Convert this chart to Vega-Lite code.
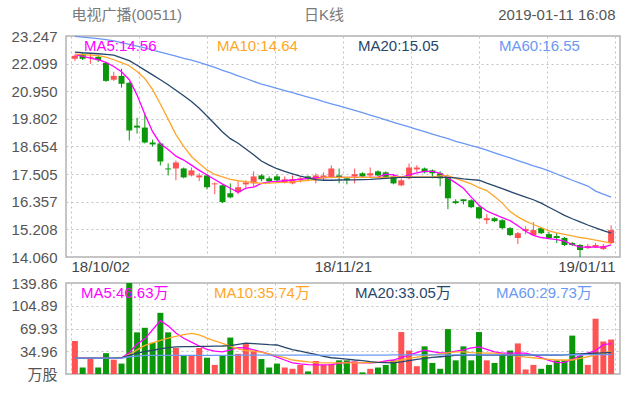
{
"$schema": "https://vega.github.io/schema/vega-lite/v6.json",
"padding": {"left": 10, "top": 6, "right": 4, "bottom": 4},
"datasets": {"k": [
{"i":0,"o":22.30,"h":22.46,"l":22.21,"c":22.42,"v":50.7,"ma5":22.47,"ma10":22.49,"ma20":22.58,"ma60":23.23,"vma5":24.5,"vma10":24.5,"vma20":24.5,"vma60":24.5},
{"i":1,"o":22.50,"h":22.54,"l":22.25,"c":22.30,"v":10,"ma5":22.40,"ma10":22.47,"ma20":22.55,"ma60":23.20,"vma5":24.5,"vma10":24.5,"vma20":24.5,"vma60":24.5},
{"i":2,"o":22.34,"h":22.50,"l":22.09,"c":22.38,"v":25,"ma5":22.33,"ma10":22.45,"ma20":22.53,"ma60":23.17,"vma5":24.5,"vma10":24.5,"vma20":24.5,"vma60":24.5},
{"i":3,"o":22.38,"h":22.46,"l":22.17,"c":22.25,"v":10,"ma5":22.26,"ma10":22.43,"ma20":22.51,"ma60":23.14,"vma5":24.5,"vma10":24.5,"vma20":24.5,"vma60":24.5},
{"i":4,"o":22.13,"h":22.17,"l":21.34,"c":21.38,"v":32,"ma5":22.15,"ma10":22.37,"ma20":22.48,"ma60":23.10,"vma5":24.5,"vma10":24.5,"vma20":24.5,"vma60":24.5},
{"i":5,"o":21.43,"h":21.76,"l":21.38,"c":21.59,"v":22,"ma5":21.98,"ma10":22.26,"ma20":22.45,"ma60":23.04,"vma5":24.5,"vma10":24.5,"vma20":24.5,"vma60":24.5},
{"i":6,"o":21.59,"h":21.88,"l":21.10,"c":21.26,"v":16,"ma5":21.76,"ma10":22.14,"ma20":22.34,"ma60":22.97,"vma5":24.5,"vma10":24.5,"vma20":25,"vma60":24.5},
{"i":7,"o":21.30,"h":21.34,"l":18.90,"c":19.32,"v":139.86,"ma5":21.43,"ma10":22.01,"ma20":22.22,"ma60":22.90,"vma5":33,"vma10":30,"vma20":28.5,"vma60":26.5},
{"i":8,"o":19.52,"h":19.85,"l":19.19,"c":19.44,"v":64,"ma5":20.79,"ma10":21.77,"ma20":22.03,"ma60":22.83,"vma5":46,"vma10":37,"vma20":32,"vma60":27.5},
{"i":9,"o":19.44,"h":20.02,"l":18.78,"c":18.82,"v":71,"ma5":19.99,"ma10":21.48,"ma20":21.83,"ma60":22.75,"vma5":54,"vma10":44,"vma20":34.5,"vma60":28.5},
{"i":10,"o":18.82,"h":18.94,"l":18.65,"c":18.74,"v":48,"ma5":19.27,"ma10":21.02,"ma20":21.63,"ma60":22.66,"vma5":68,"vma10":48,"vma20":36.5,"vma60":28.5},
{"i":11,"o":18.78,"h":18.82,"l":17.87,"c":18.03,"v":94,"ma5":18.77,"ma10":20.42,"ma20":21.43,"ma60":22.58,"vma5":82,"vma10":51.5,"vma20":38.5,"vma60":28.5},
{"i":12,"o":17.74,"h":17.95,"l":17.45,"c":17.70,"v":64,"ma5":18.53,"ma10":19.79,"ma20":21.22,"ma60":22.49,"vma5":74,"vma10":55,"vma20":40.5,"vma60":28.5},
{"i":13,"o":17.74,"h":18.07,"l":17.25,"c":17.99,"v":40,"ma5":18.25,"ma10":19.15,"ma20":20.99,"ma60":22.41,"vma5":63,"vma10":58,"vma20":41.8,"vma60":28.5},
{"i":14,"o":17.74,"h":17.78,"l":17.33,"c":17.37,"v":28,"ma5":18.09,"ma10":18.66,"ma20":20.76,"ma60":22.32,"vma5":55,"vma10":60.5,"vma20":42,"vma60":28.5},
{"i":15,"o":17.45,"h":17.78,"l":17.41,"c":17.66,"v":28,"ma5":17.88,"ma10":18.24,"ma20":20.52,"ma60":22.24,"vma5":49,"vma10":62.5,"vma20":42.2,"vma60":28.5},
{"i":16,"o":17.37,"h":17.54,"l":17.21,"c":17.45,"v":40,"ma5":17.66,"ma10":17.95,"ma20":20.24,"ma60":22.15,"vma5":43,"vma10":60,"vma20":42.4,"vma60":28.5},
{"i":17,"o":17.45,"h":17.50,"l":16.87,"c":16.96,"v":25,"ma5":17.47,"ma10":17.68,"ma20":19.92,"ma60":22.05,"vma5":38,"vma10":55,"vma20":42.6,"vma60":28.5},
{"i":18,"o":17.08,"h":17.16,"l":16.67,"c":17.12,"v":14,"ma5":17.28,"ma10":17.49,"ma20":19.59,"ma60":21.94,"vma5":35,"vma10":51,"vma20":42.8,"vma60":28.5},
{"i":19,"o":17.04,"h":17.08,"l":16.30,"c":16.34,"v":28,"ma5":17.09,"ma10":17.39,"ma20":19.26,"ma60":21.82,"vma5":34,"vma10":47,"vma20":43,"vma60":28.5},
{"i":20,"o":16.71,"h":17.12,"l":16.50,"c":16.54,"v":56,"ma5":16.92,"ma10":17.29,"ma20":18.98,"ma60":21.71,"vma5":37,"vma10":43,"vma20":43.5,"vma60":28.5},
{"i":21,"o":16.75,"h":17.21,"l":16.67,"c":16.96,"v":31,"ma5":16.75,"ma10":17.23,"ma20":18.79,"ma60":21.59,"vma5":40.5,"vma10":38.5,"vma20":45.5,"vma60":29},
{"i":22,"o":17.08,"h":17.25,"l":16.96,"c":17.16,"v":46,"ma5":16.92,"ma10":17.19,"ma20":18.55,"ma60":21.48,"vma5":40,"vma10":36,"vma20":47.3,"vma60":29},
{"i":23,"o":17.12,"h":17.62,"l":17.00,"c":17.41,"v":35,"ma5":16.96,"ma10":17.16,"ma20":18.31,"ma60":21.36,"vma5":37,"vma10":35,"vma20":46.8,"vma60":29},
{"i":24,"o":17.45,"h":17.50,"l":17.21,"c":17.29,"v":23,"ma5":17.12,"ma10":17.12,"ma20":18.05,"ma60":21.25,"vma5":34,"vma10":33.5,"vma20":45.8,"vma60":29},
{"i":25,"o":17.33,"h":17.41,"l":17.12,"c":17.21,"v":10,"ma5":17.18,"ma10":17.13,"ma20":17.88,"ma60":21.16,"vma5":30,"vma10":31,"vma20":45,"vma60":29},
{"i":26,"o":17.41,"h":17.50,"l":17.16,"c":17.25,"v":16,"ma5":17.20,"ma10":17.15,"ma20":17.73,"ma60":21.07,"vma5":26,"vma10":28,"vma20":44.6,"vma60":29},
{"i":27,"o":17.16,"h":17.41,"l":17.12,"c":17.29,"v":10,"ma5":17.23,"ma10":17.16,"ma20":17.62,"ma60":20.98,"vma5":21.5,"vma10":25,"vma20":41,"vma60":29},
{"i":28,"o":17.12,"h":17.45,"l":17.08,"c":17.29,"v":8,"ma5":17.26,"ma10":17.18,"ma20":17.52,"ma60":20.89,"vma5":17,"vma10":21.5,"vma20":37.5,"vma60":29},
{"i":29,"o":17.25,"h":17.41,"l":17.16,"c":17.33,"v":14,"ma5":17.29,"ma10":17.21,"ma20":17.42,"ma60":20.80,"vma5":15.5,"vma10":20,"vma20":35,"vma60":29},
{"i":30,"o":17.41,"h":17.45,"l":17.21,"c":17.29,"v":4,"ma5":17.33,"ma10":17.25,"ma20":17.35,"ma60":20.71,"vma5":14.5,"vma10":18.5,"vma20":32.5,"vma60":29},
{"i":31,"o":17.25,"h":17.54,"l":17.12,"c":17.45,"v":20,"ma5":17.35,"ma10":17.28,"ma20":17.28,"ma60":20.62,"vma5":14,"vma10":17.5,"vma20":30,"vma60":29},
{"i":32,"o":17.33,"h":17.58,"l":17.25,"c":17.45,"v":14,"ma5":17.36,"ma10":17.37,"ma20":17.25,"ma60":20.52,"vma5":14,"vma10":17,"vma20":27,"vma60":29},
{"i":33,"o":17.37,"h":17.87,"l":17.33,"c":17.74,"v":15,"ma5":17.37,"ma10":17.37,"ma20":17.25,"ma60":20.43,"vma5":14.5,"vma10":17,"vma20":25,"vma60":29},
{"i":34,"o":17.45,"h":17.74,"l":17.12,"c":17.37,"v":21,"ma5":17.37,"ma10":17.37,"ma20":17.26,"ma60":20.34,"vma5":16.5,"vma10":17,"vma20":24,"vma60":29},
{"i":35,"o":17.33,"h":17.37,"l":17.08,"c":17.25,"v":21,"ma5":17.37,"ma10":17.37,"ma20":17.27,"ma60":20.25,"vma5":18,"vma10":17,"vma20":23,"vma60":29},
{"i":36,"o":17.41,"h":17.74,"l":17.12,"c":17.50,"v":19.5,"ma5":17.37,"ma10":17.37,"ma20":17.27,"ma60":20.16,"vma5":18,"vma10":17,"vma20":21.5,"vma60":29},
{"i":37,"o":17.54,"h":17.58,"l":17.37,"c":17.41,"v":2.5,"ma5":17.37,"ma10":17.37,"ma20":17.28,"ma60":20.06,"vma5":17,"vma10":17.5,"vma20":20.5,"vma60":29},
{"i":38,"o":17.45,"h":17.78,"l":17.37,"c":17.54,"v":8,"ma5":17.37,"ma10":17.37,"ma20":17.29,"ma60":19.96,"vma5":17,"vma10":17.5,"vma20":19,"vma60":29},
{"i":39,"o":17.62,"h":17.66,"l":17.41,"c":17.45,"v":10,"ma5":17.38,"ma10":17.37,"ma20":17.31,"ma60":19.86,"vma5":18,"vma10":18,"vma20":18,"vma60":29},
{"i":40,"o":17.58,"h":17.62,"l":17.33,"c":17.37,"v":14,"ma5":17.50,"ma10":17.37,"ma20":17.33,"ma60":19.76,"vma5":20,"vma10":18,"vma20":17.5,"vma60":29},
{"i":41,"o":17.41,"h":17.50,"l":17.08,"c":17.12,"v":21,"ma5":17.47,"ma10":17.39,"ma20":17.35,"ma60":19.66,"vma5":21.5,"vma10":19,"vma20":17,"vma60":29.5},
{"i":42,"o":17.04,"h":17.33,"l":17.00,"c":17.25,"v":64.5,"ma5":17.37,"ma10":17.39,"ma20":17.37,"ma60":19.56,"vma5":25,"vma10":21.5,"vma20":18.5,"vma60":29.5},
{"i":43,"o":17.33,"h":17.95,"l":17.29,"c":17.78,"v":36,"ma5":17.47,"ma10":17.39,"ma20":17.37,"ma60":19.47,"vma5":29,"vma10":24,"vma20":20.5,"vma60":29.5},
{"i":44,"o":17.70,"h":17.87,"l":17.58,"c":17.78,"v":12,"ma5":17.56,"ma10":17.39,"ma20":17.37,"ma60":19.37,"vma5":33,"vma10":26,"vma20":22.5,"vma60":29.5},
{"i":45,"o":17.74,"h":17.78,"l":17.54,"c":17.58,"v":42.5,"ma5":17.62,"ma10":17.39,"ma20":17.37,"ma60":19.27,"vma5":36.5,"vma10":27.5,"vma20":24,"vma60":29.5},
{"i":46,"o":17.66,"h":17.70,"l":17.33,"c":17.54,"v":17,"ma5":17.62,"ma10":17.39,"ma20":17.37,"ma60":19.17,"vma5":34.5,"vma10":29.5,"vma20":25.5,"vma60":29.5},
{"i":47,"o":17.54,"h":17.62,"l":17.00,"c":17.33,"v":8,"ma5":17.54,"ma10":17.43,"ma20":17.37,"ma60":19.07,"vma5":32.5,"vma10":31,"vma20":26.5,"vma60":29.5},
{"i":48,"o":17.37,"h":17.41,"l":16.05,"c":16.50,"v":69,"ma5":17.35,"ma10":17.44,"ma20":17.37,"ma60":18.98,"vma5":33,"vma10":32.5,"vma20":27.5,"vma60":29.5},
{"i":49,"o":16.38,"h":16.46,"l":16.25,"c":16.30,"v":21,"ma5":17.14,"ma10":17.33,"ma20":17.35,"ma60":18.87,"vma5":35,"vma10":34,"vma20":28.5,"vma60":29.5},
{"i":50,"o":16.46,"h":16.46,"l":16.25,"c":16.38,"v":42.5,"ma5":16.92,"ma10":17.21,"ma20":17.31,"ma60":18.78,"vma5":37,"vma10":34,"vma20":29,"vma60":29.5},
{"i":51,"o":16.42,"h":16.46,"l":16.09,"c":16.13,"v":21,"ma5":16.55,"ma10":17.10,"ma20":17.28,"ma60":18.69,"vma5":40,"vma10":33,"vma20":29,"vma60":29.5},
{"i":52,"o":16.13,"h":16.17,"l":15.63,"c":15.67,"v":64.5,"ma5":16.21,"ma10":16.94,"ma20":17.25,"ma60":18.61,"vma5":41.5,"vma10":32.5,"vma20":29,"vma60":29.5},
{"i":53,"o":15.59,"h":15.84,"l":15.43,"c":15.67,"v":21,"ma5":15.97,"ma10":16.82,"ma20":17.13,"ma60":18.50,"vma5":38,"vma10":32,"vma20":29,"vma60":29.5},
{"i":54,"o":15.67,"h":15.71,"l":15.51,"c":15.55,"v":17,"ma5":15.83,"ma10":16.57,"ma20":17.02,"ma60":18.39,"vma5":34,"vma10":32,"vma20":29,"vma60":29.5},
{"i":55,"o":15.59,"h":15.63,"l":15.22,"c":15.26,"v":31,"ma5":15.70,"ma10":16.30,"ma20":16.90,"ma60":18.28,"vma5":32,"vma10":30.5,"vma20":29,"vma60":29.5},
{"i":56,"o":15.26,"h":15.30,"l":14.93,"c":14.97,"v":36,"ma5":15.57,"ma10":15.95,"ma20":16.78,"ma60":18.18,"vma5":32,"vma10":29,"vma20":29,"vma60":29.5},
{"i":57,"o":14.85,"h":15.10,"l":14.60,"c":15.05,"v":47,"ma5":15.36,"ma10":15.73,"ma20":16.66,"ma60":18.07,"vma5":32,"vma10":27.5,"vma20":29,"vma60":29.5},
{"i":58,"o":15.14,"h":15.34,"l":15.01,"c":15.22,"v":7,"ma5":15.13,"ma10":15.55,"ma20":16.55,"ma60":17.96,"vma5":32,"vma10":26,"vma20":29,"vma60":29.5},
{"i":59,"o":14.97,"h":15.51,"l":14.93,"c":15.18,"v":14,"ma5":14.96,"ma10":15.41,"ma20":16.44,"ma60":17.85,"vma5":29,"vma10":25,"vma20":29,"vma60":29.5},
{"i":60,"o":15.26,"h":15.30,"l":15.01,"c":15.05,"v":8,"ma5":14.87,"ma10":15.28,"ma20":16.30,"ma60":17.75,"vma5":25,"vma10":23.5,"vma20":29,"vma60":29.5},
{"i":61,"o":15.01,"h":15.10,"l":14.80,"c":14.85,"v":14,"ma5":14.82,"ma10":15.15,"ma20":16.13,"ma60":17.64,"vma5":21,"vma10":22.5,"vma20":29,"vma60":29.5},
{"i":62,"o":14.93,"h":15.05,"l":14.64,"c":14.85,"v":21,"ma5":14.78,"ma10":15.06,"ma20":15.96,"ma60":17.51,"vma5":17.5,"vma10":21.5,"vma20":29,"vma60":29.5},
{"i":63,"o":14.85,"h":14.89,"l":14.52,"c":14.56,"v":21,"ma5":14.72,"ma10":15.00,"ma20":15.79,"ma60":17.38,"vma5":18,"vma10":21.5,"vma20":29.5,"vma60":29.5},
{"i":64,"o":14.64,"h":14.68,"l":14.52,"c":14.56,"v":59,"ma5":14.58,"ma10":14.94,"ma20":15.65,"ma60":17.25,"vma5":22.5,"vma10":21.5,"vma20":30.5,"vma60":29.6},
{"i":65,"o":14.56,"h":14.60,"l":14.06,"c":14.35,"v":28,"ma5":14.47,"ma10":14.87,"ma20":15.52,"ma60":17.13,"vma5":28,"vma10":24,"vma20":31,"vma60":29.6},
{"i":66,"o":14.43,"h":14.60,"l":14.39,"c":14.52,"v":14,"ma5":14.47,"ma10":14.82,"ma20":15.39,"ma60":17.01,"vma5":32,"vma10":26.5,"vma20":31.5,"vma60":29.7},
{"i":67,"o":14.47,"h":14.64,"l":14.43,"c":14.56,"v":85,"ma5":14.47,"ma10":14.76,"ma20":15.27,"ma60":16.80,"vma5":36,"vma10":29,"vma20":32,"vma60":29.7},
{"i":68,"o":14.39,"h":14.60,"l":14.35,"c":14.52,"v":50,"ma5":14.47,"ma10":14.70,"ma20":15.16,"ma60":16.67,"vma5":45,"vma10":32,"vma20":32.5,"vma60":29.7},
{"i":69,"o":14.64,"h":15.38,"l":14.60,"c":15.18,"v":53,"ma5":14.56,"ma10":14.64,"ma20":15.05,"ma60":16.55,"vma5":46.63,"vma10":35.74,"vma20":33.05,"vma60":29.73}
]},
"config": {
  "font": "Liberation Sans, Noto Sans CJK SC, sans-serif",
  "view": {"stroke": "#b3b3b3", "strokeWidth": 1.5},
  "axis": {"labelFontSize": 15, "labelColor": "#555555", "labelFont": "Liberation Sans, Noto Sans CJK SC, sans-serif", "domain": false, "title": null, "labelOverlap": false, "tickCount": 30},
  "legend": {"labelFont": "Liberation Sans, Noto Sans CJK SC, sans-serif"}
},
"spacing": 0,
"resolve": {"scale": {"color": "independent"}},
"vconcat": [
{
  "width": 554, "height": 221,
  "data": {"name": "k"},
  "resolve": {"axis": {"x": "independent"}},
  "layer": [
    {"mark": {"type": "rule", "strokeWidth": 1},
     "encoding": {
       "x": {"field": "i", "type": "quantitative", "scale": {"domain": [-0.5, 69.5], "nice": false, "zero": false},
             "axis": {"orient": "bottom", "values": [-0.5, 8.25, 17, 25.75, 34.5, 43.25, 52, 60.75, 69.5], "tickCount": 30, "labelExpr": "datum.value < 0 ? '18/10/02' : datum.value == 34.5 ? '18/11/21' : datum.value > 69 ? '19/01/11' : ''", "labelOverlap": false, "grid": true, "gridColor": "#c2c2c2", "gridDash": [2, 3], "gridWidth": 1, "ticks": true, "tickSize": 0, "tickOpacity": 0, "labelPadding": 2, "labelColor": "#444444",
                      "labelAlign": {"expr": "datum.value < 0 ? 'left' : datum.value > 69 ? 'right' : 'center'"}}},
       "y": {"field": "l", "type": "quantitative", "scale": {"domain": [14.06, 23.247], "nice": false, "zero": false},
             "axis": {"orient": "left", "values": [14.06, 15.208, 16.357, 17.505, 18.654, 19.802, 20.95, 22.099, 23.247], "tickCount": 30, "format": ".3f", "grid": true, "gridColor": "#c2c2c2", "gridDash": [2, 3], "gridWidth": 1, "ticks": true, "tickSize": 0, "tickOpacity": 0, "labelPadding": 9, "labelOverlap": false}},
       "y2": {"field": "h"},
       "color": {"condition": {"test": "datum.c >= datum.o", "value": "#ff5252"}, "value": "#0a970a"}
     }},
    {"mark": {"type": "bar", "width": 6},
     "encoding": {
       "x": {"field": "i", "type": "quantitative", "axis": null},
       "y": {"field": "o", "type": "quantitative"},
       "y2": {"field": "c"},
       "color": {"condition": {"test": "datum.c >= datum.o", "value": "#ff5252"}, "value": "#0a970a"}
     }},
    {"transform": [{"fold": ["ma5", "ma10", "ma20", "ma60"], "as": ["key", "val"]}],
     "mark": {"type": "line", "strokeWidth": 1.3},
     "encoding": {
       "x": {"field": "i", "type": "quantitative", "axis": null},
       "y": {"field": "val", "type": "quantitative"},
       "color": {"field": "key", "type": "nominal",
                 "scale": {"domain": ["ma5", "ma10", "ma20", "ma60"], "range": ["#ff00ff", "#ffa629", "#27466b", "#6a98f5"]},
                 "legend": {"title": null, "orient": "none", "legendX": 3, "legendY": 2, "direction": "horizontal",
                            "symbolSize": 0, "symbolStrokeWidth": 0, "symbolOpacity": 0, "labelOffset": 0, "labelFontSize": 15, "columnPadding": 45, "labelLimit": 200,
                            "labelExpr": "datum.value == 'ma5' ? 'MA5:14.56' : datum.value == 'ma10' ? 'MA10:14.64' : datum.value == 'ma20' ? 'MA20:15.05' : 'MA60:16.55'",
                            "encode": {"labels": {"update": {"fill": {"signal": "datum.value == 'ma5' ? '#ff00ff' : datum.value == 'ma10' ? '#ffa629' : datum.value == 'ma20' ? '#27466b' : '#6a98f5'"}}}}}}
     }},
    {"mark": {"type": "rule", "opacity": 0},
     "encoding": {
       "x": {"field": "i", "type": "quantitative",
             "axis": {"orient": "top", "values": [-0.5, 32, 69.5], "tickCount": 30, "labelExpr": "datum.value < 0 ? '电视广播(00511)' : datum.value > 69 ? '2019-01-11 16:08' : '日K线'", "labelOverlap": false, "grid": false, "ticks": false, "labelPadding": 14, "labelColor": {"condition": {"test": "datum.value > 69", "value": "#555555"}, "value": "#7a7a7a"},
                      "labelAlign": {"expr": "datum.value < 0 ? 'left' : datum.value > 69 ? 'right' : 'center'"}}}
     }}
  ]
},
{
  "width": 554, "height": 91,
  "data": {"name": "k"},
  "layer": [
    {"mark": {"type": "bar", "width": 6},
     "encoding": {
       "x": {"field": "i", "type": "quantitative", "scale": {"domain": [-0.5, 69.5], "nice": false, "zero": false},
             "axis": {"values": [-0.5, 8.25, 17, 25.75, 34.5, 43.25, 52, 60.75, 69.5], "tickCount": 30, "labels": false, "grid": true, "gridColor": "#c2c2c2", "gridDash": [2, 3], "gridWidth": 1, "ticks": true, "tickSize": 0, "tickOpacity": 0}},
       "y": {"field": "v", "type": "quantitative", "scale": {"domain": [0, 139.86], "nice": false},
             "axis": {"orient": "left", "values": [0, 34.96, 69.93, 104.89, 139.86], "tickCount": 30, "labelExpr": "datum.value == 0 ? '万股' : format(datum.value, '.2f')", "grid": true, "gridColor": "#c2c2c2", "gridDash": [2, 3], "gridWidth": 1, "ticks": true, "tickSize": 0, "tickOpacity": 0, "labelPadding": 9, "labelOverlap": false}},
       "color": {"condition": {"test": "datum.c >= datum.o", "value": "#ff5252"}, "value": "#0a970a"}
     }},
    {"transform": [{"fold": ["vma5", "vma10", "vma20", "vma60"], "as": ["key", "val"]}],
     "mark": {"type": "line", "strokeWidth": 1.3},
     "encoding": {
       "x": {"field": "i", "type": "quantitative"},
       "y": {"field": "val", "type": "quantitative"},
       "color": {"field": "key", "type": "nominal",
                 "scale": {"domain": ["vma5", "vma10", "vma20", "vma60"], "range": ["#ff00ff", "#ffa629", "#27466b", "#6a98f5"]},
                 "legend": {"title": null, "orient": "none", "legendX": 0, "legendY": 2, "direction": "horizontal",
                            "symbolSize": 0, "symbolStrokeWidth": 0, "symbolOpacity": 0, "labelOffset": 0, "labelFontSize": 15, "columnPadding": 30, "labelLimit": 200,
                            "labelExpr": "datum.value == 'vma5' ? 'MA5:46.63万' : datum.value == 'vma10' ? 'MA10:35.74万' : datum.value == 'vma20' ? 'MA20:33.05万' : 'MA60:29.73万'",
                            "encode": {"labels": {"update": {"fill": {"signal": "datum.value == 'vma5' ? '#ff00ff' : datum.value == 'vma10' ? '#ffa629' : datum.value == 'vma20' ? '#27466b' : '#6a98f5'"}}}}}}
     }}
  ]
}
]
}
